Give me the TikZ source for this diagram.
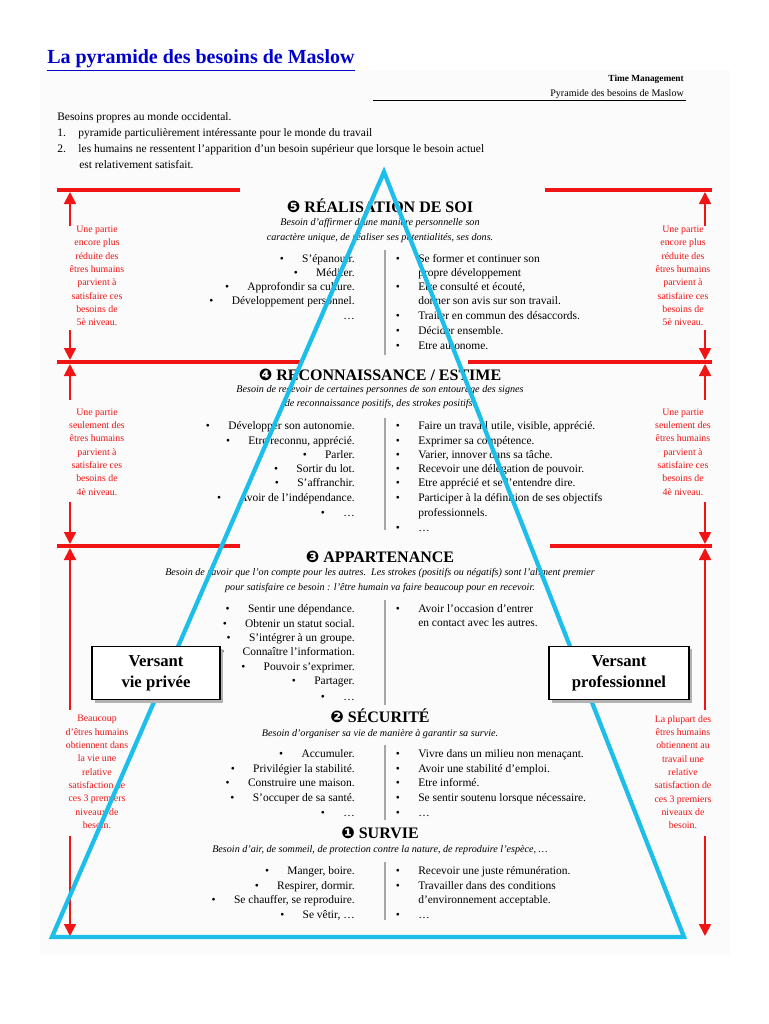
\documentclass[tikz,border=0pt]{standalone}
\usepackage{fontspec}
\setmainfont{Liberation Serif}
\newfontfamily\dejavu{DejaVu Sans}
\usetikzlibrary{arrows.meta}
\definecolor{pyr}{RGB}{30,190,235}
\definecolor{rd}{RGB}{240,20,20}
\tikzset{
  body/.style={font=\fontsize{8.6}{10}\selectfont,inner sep=0pt},
  li/.style={body,anchor=base east},
  ri/.style={body,anchor=base west},
  redtxt/.style={font=\fontsize{7.4}{10}\selectfont,text=rd,align=center,inner sep=0pt},
  redline/.style={rd,line width=2.4pt},
  redarr/.style={rd,line width=1.3pt,-{Triangle[width=9pt,length=9pt]}},
  divider/.style={gray!70,line width=0.8pt},
  head/.style={font=\bfseries\fontsize{12}{14}\selectfont,inner sep=0pt,anchor=base},
  sub/.style={font=\itshape\fontsize{7.6}{11}\selectfont,inner sep=0pt,align=center,anchor=north},
  vbox/.style={draw,line width=0.8pt,fill=white,font=\bfseries\fontsize{12.5}{16}\selectfont,align=center,minimum width=96pt,minimum height=40pt}
}
\newcommand{\Lit}[2]{\node[li] at (355,#1) {\textbullet\hspace{1.6em}#2};}
\newcommand{\Rit}[2]{\node[body,anchor=base] at (398,#1) {\textbullet}; \node[ri] at (418,#1) {#2};}
\newcommand{\Rc}[2]{\node[ri] at (418,#1) {#2};}
\begin{document}
\begin{tikzpicture}[x=0.75pt,y=-0.75pt]
\useasboundingbox[fill=white] (0,0) rectangle (768,1024);
\fill[white!97!gray] (40,70) rectangle (730,955);
% title
\node[anchor=base west,inner sep=0pt,font=\bfseries\fontsize{15}{18}\selectfont,text=blue!80!black] (title) at (47,64) {\underline{La pyramide des besoins de Maslow}};
\node[anchor=base east,inner sep=0pt,font=\bfseries\fontsize{7}{8}\selectfont] (tm) at (684,82) {Time Management};
\node[anchor=base east,inner sep=0pt,font=\fontsize{7.5}{9}\selectfont] (pm) at (684,96) {Pyramide des besoins de Maslow};
\draw[line width=0.6pt] (373,100) -- (686,100);
\node[anchor=base west,inner sep=0pt,font=\fontsize{8.6}{10}\selectfont] (i0) at (57,120) {Besoins propres au monde occidental.};
\node[anchor=base west,inner sep=0pt,font=\fontsize{8.6}{10}\selectfont] (i1) at (57,136) {1.\hspace{1.1em}pyramide particulièrement intéressante pour le monde du travail};
\node[anchor=base west,inner sep=0pt,font=\fontsize{8.6}{10}\selectfont] (i2) at (57,152) {2.\hspace{1.1em}les humains ne ressentent l'apparition d'un besoin supérieur que lorsque le besoin actuel};
\node[anchor=base west,inner sep=0pt,font=\fontsize{8.6}{10}\selectfont] (i3) at (79,168) {est relativement satisfait.};
% red lines
\draw[redline] (57,190) -- (240,190); \draw[redline] (545,190) -- (712,190);
\draw[redline] (57,362) -- (302,362); \draw[redline] (468,362) -- (712,362);
\draw[redline] (57,546) -- (240,546); \draw[redline] (550,546) -- (712,546);
% red arrows + texts
\foreach \x in {70,705}{
 \draw[redarr] (\x,226) -- (\x,192); \draw[redarr] (\x,330) -- (\x,360);
 \draw[redarr] (\x,400) -- (\x,364); \draw[redarr] (\x,502) -- (\x,544);
 \draw[redarr] (\x,710) -- (\x,548); \draw[redarr] (\x,836) -- (\x,936);
}
\node[redtxt] (r5l) at (97,276) {Une partie\\encore plus\\réduite des\\êtres humains\\parvient à\\satisfaire ces\\besoins de\\5è niveau.};
\node[redtxt] (r5r) at (683,276) {Une partie\\encore plus\\réduite des\\êtres humains\\parvient à\\satisfaire ces\\besoins de\\5è niveau.};
\node[redtxt] (r4l) at (97,452) {Une partie\\seulement des\\êtres humains\\parvient à\\satisfaire ces\\besoins de\\4è niveau.};
\node[redtxt] (r4r) at (683,452) {Une partie\\seulement des\\êtres humains\\parvient à\\satisfaire ces\\besoins de\\4è niveau.};
\node[redtxt] (r3l) at (97,772) {Beaucoup\\d'êtres humains\\obtiennent dans\\la vie une\\relative\\satisfaction de\\ces 3 premiers\\niveaux de\\besoin.};
\node[redtxt] (r3r) at (683,772) {La plupart des\\êtres humains\\obtiennent au\\travail une\\relative\\satisfaction de\\ces 3 premiers\\niveaux de\\besoin.};
% dividers
\draw[divider] (385,250) -- (385,355);
\draw[divider] (385,418) -- (385,530);
\draw[divider] (385,600) -- (385,705);
\draw[divider] (385,745) -- (385,820);
\draw[divider] (385,862) -- (385,920);
% level 5
\node[head] (h5) at (380,212) {{\dejavu ❺} RÉALISATION DE SOI};
\node[sub] (s5) at (380,218) {Besoin d'affirmer d'une manière personnelle son\\caractère unique, de réaliser ses potentialités, ses dons.};
\Lit{262}{S'épanouir.} \Lit{276}{Méditer.} \Lit{290}{Approfondir sa culture.} \Lit{304}{Développement personnel.} \Lit{319}{\dots}
\Rit{262}{Se former et continuer son} \Rc{276}{propre développement} \Rit{290}{Etre consulté et écouté,} \Rc{304}{donner son avis sur son travail.} \Rit{319}{Traiter en commun des désaccords.} \Rit{334}{Décider ensemble.} \Rit{349}{Etre autonome.}
% level 4
\node[head] (h4) at (380,380) {{\dejavu ❹} RECONNAISSANCE / ESTIME};
\node[sub] (s4) at (380,385) {Besoin de recevoir de certaines personnes de son entourage des signes\\de reconnaissance positifs, des strokes positifs.};
\Lit{429}{Développer son autonomie.} \Lit{444}{Etre reconnu, apprécié.} \Lit{458}{Parler.} \Lit{472}{Sortir du lot.} \Lit{486}{S'affranchir.} \Lit{501}{Avoir de l'indépendance.} \Lit{516}{\dots}
\Rit{429}{Faire un travail utile, visible, apprécié.} \Rit{444}{Exprimer sa compétence.} \Rit{458}{Varier, innover dans sa tâche.} \Rit{472}{Recevoir une délégation de pouvoir.} \Rit{486}{Etre apprécié et se l'entendre dire.} \Rit{501}{Participer à la définition de ses objectifs} \Rc{516}{professionnels.} \Rit{531}{\dots}
% level 3
\node[head] (h3) at (380,562) {{\dejavu ❸} APPARTENANCE};
\node[sub] (s3) at (380,568) {Besoin de savoir que l'on compte pour les autres.\ \ Les strokes (positifs ou négatifs) sont l'aliment premier\\pour satisfaire ce besoin : l'être humain va faire beaucoup pour en recevoir.};
\Lit{612}{Sentir une dépendance.} \Lit{627}{Obtenir un statut social.} \Lit{641}{S'intégrer à un groupe.} \Lit{655}{Connaître l'information.} \Lit{670}{Pouvoir s'exprimer.} \Lit{684}{Partager.} \Lit{700}{\dots}
\Rit{612}{Avoir l'occasion d'entrer} \Rc{626}{en contact avec les autres.}
% level 2
\node[head] (h2) at (380,722) {{\dejavu ❷} SÉCURITÉ};
\node[sub] (s2) at (380,729) {Besoin d'organiser sa vie de manière à garantir sa survie.};
\Lit{757}{Accumuler.} \Lit{772}{Privilégier la stabilité.} \Lit{786}{Construire une maison.} \Lit{801}{S'occuper de sa santé.} \Lit{816}{\dots}
\Rit{757}{Vivre dans un milieu non menaçant.} \Rit{772}{Avoir une stabilité d'emploi.} \Rit{786}{Etre informé.} \Rit{801}{Se sentir soutenu lorsque nécessaire.} \Rit{816}{\dots}
% level 1
\node[head] (h1) at (380,838) {{\dejavu ❶} SURVIE};
\node[sub] (s1) at (380,845) {Besoin d'air, de sommeil, de protection contre la nature, de reproduire l'espèce, \dots};
\Lit{874}{Manger, boire.} \Lit{889}{Respirer, dormir.} \Lit{903}{Se chauffer, se reproduire.} \Lit{918}{Se vêtir, \dots}
\Rit{874}{Recevoir une juste rémunération.} \Rit{889}{Travailler dans des conditions} \Rc{903}{d'environnement acceptable.} \Rit{918}{\dots}
% pyramid
\draw[pyr,line width=3.2pt,line join=miter] (384,172) -- (684,937) -- (52,937) -- cycle;
% versant boxes
\fill[gray!60] (95,649) rectangle (223,703);
\node[vbox] (vl) at (156,673) {Versant\\vie privée};
\fill[gray!60] (552,649) rectangle (692,703);
\node[vbox,minimum width=105pt] (vr) at (619,673) {Versant\\professionnel};
\end{tikzpicture}
\end{document}
